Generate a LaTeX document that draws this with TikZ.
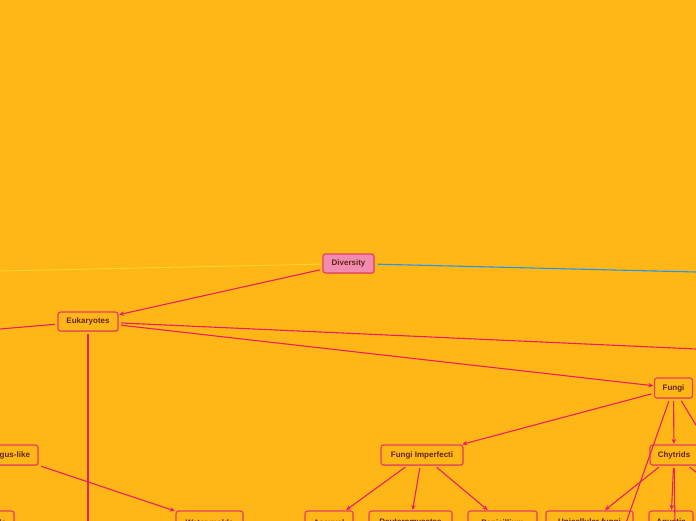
\documentclass[tikz,border=0pt]{standalone}
\usepackage{fontspec}
\setmainfont{Liberation Sans}
\usetikzlibrary{arrows.meta,shadows}
\definecolor{bg}{RGB}{254,183,22}
\definecolor{boxline}{RGB}{232,62,100}
\definecolor{txt}{RGB}{100,36,22}
\definecolor{pinkfill}{RGB}{242,139,176}
\definecolor{pinkedge}{RGB}{233,30,99}
\definecolor{yel}{RGB}{250,214,40}
\definecolor{blu}{RGB}{33,150,243}
\definecolor{shade}{RGB}{215,140,20}
\begin{document}
\begin{tikzpicture}[x=1pt,y=-1pt,
  box/.style={draw=boxline, line width=1.2pt, rounded corners=2.5pt, fill=bg,
    text=txt, font=\bfseries\fontsize{8}{9}\selectfont, minimum height=20pt,
    inner xsep=0pt, inner ysep=0pt,
    drop shadow={shadow xshift=0.6pt, shadow yshift=-0.9pt, fill=shade, opacity=0.8}},
  rootbox/.style={box, fill=pinkfill, minimum height=19pt},
  lowbox/.style={box, minimum height=23pt},
  link/.style={draw=pinkedge, line width=1.1pt, shorten <=2.5pt},
  arr/.style={link, -{Stealth[length=5pt,width=4.5pt]}, shorten >=0.5pt}
]
\useasboundingbox (0,0) rectangle (696,520);
\fill[bg] (-5,-5) rectangle (701,525);
\clip (0,0) rectangle (696,520);

% nodes
\node[rootbox, minimum width=51pt] (div) at (348.5,263.5) {Diversity};
\node[box, minimum width=60pt, minimum height=19pt] (euk) at (88,321.5) {Eukaryotes};
\node[box, minimum width=38pt] (fungi) at (673.5,388) {Fungi};
\node[box, minimum width=48pt] (chy) at (674,455) {Chytrids};
\node[box, minimum width=61pt] (fl) at (7.5,455) {Fungus-like};
\node[box, minimum width=82pt] (fi) at (422,455) {Fungi Imperfecti};

\node[lowbox, minimum width=63pt] (slime) at (-17.5,522.5) {Slime molds};
\node[lowbox, minimum width=67pt] (water) at (209.5,522.5) {Water molds};
\node[lowbox, minimum width=48pt] (asex) at (329,522.5) {Asexual};
\node[lowbox, minimum width=83pt] (deut) at (410.5,522.5) {Deuteromycetes};
\node[lowbox, minimum width=69pt] (peni) at (502.5,522.5) {Penicillium};
\node[lowbox, minimum width=87pt] (uni) at (589.5,522.5) {Unicellular fungi};
\node[lowbox, minimum width=44pt] (aqua) at (671,522.5) {Aquatic};

% free ends off the picture
\coordinate (offYel) at (-200,275.3);
\coordinate (offBlu) at (900,277);
\coordinate (offEukL) at (-100,337.5);
\coordinate (offEukR) at (900,358.2);
\coordinate (offEukD) at (88,600);
\coordinate (offFungiR) at (741,499);
\coordinate (offFungiD) at (580.5,652);
\coordinate (offChyD) at (676,600);
\coordinate (offChyR) at (740,506);

% connectors
\draw[draw=yel, line width=0.9pt, shorten <=1pt] (div) -- (offYel);
\draw[draw=blu, line width=1.1pt, shorten <=3pt] (div) -- (offBlu);
\draw[arr] (div) -- (euk);
\draw[link] (euk) -- (offEukL);
\draw[link] (euk) -- (offEukR);
\draw[arr] (euk) -- (fungi);
\draw[link] (euk) -- (offEukD);
\draw[arr] (fl) -- (water);
\draw[arr] (fungi) -- (fi);
\draw[arr] (fungi) -- (chy);
\draw[link] (fungi) -- (offFungiR);
\draw[link] (fungi) -- (offFungiD);
\draw[arr] (chy) -- (uni);
\draw[arr] (chy) -- (aqua);
\draw[link] (chy) -- (offChyD);
\draw[link] (chy) -- (offChyR);
\draw[arr] (fi) -- (asex);
\draw[arr] (fi) -- (deut);
\draw[arr] (fi) -- (peni);
\end{tikzpicture}
\end{document}
